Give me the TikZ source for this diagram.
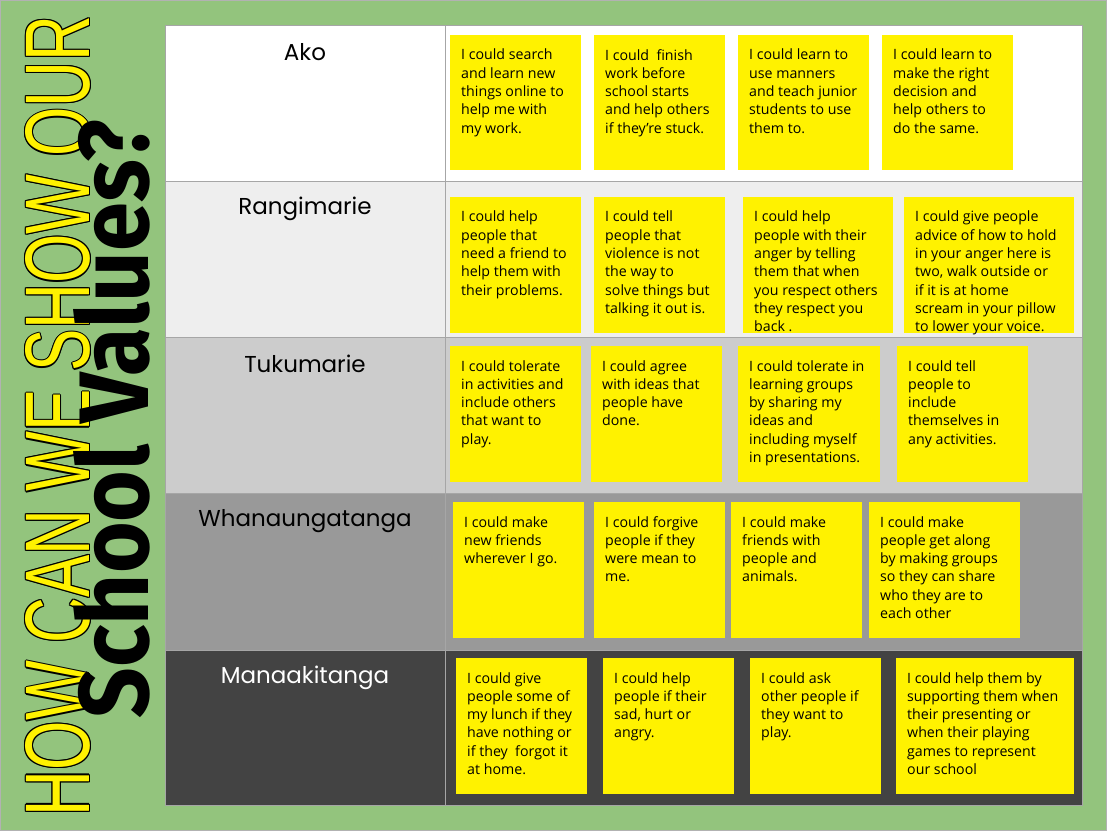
\documentclass[tikz,border=0pt]{standalone}
\usepackage{fontspec}
\setmainfont{Open Sans}
\newfontfamily\lab{Poppins}
\newfontfamily\ttl{Fira Sans}
\newfontfamily\hw{Liberation Sans}
\definecolor{bg}{HTML}{93C47D}
\definecolor{r2}{HTML}{EEEEEE}
\definecolor{r3}{HTML}{CCCCCC}
\definecolor{r4}{HTML}{999999}
\definecolor{r5}{HTML}{434343}
\begin{document}
\begin{tikzpicture}[x=1pt,y=-1pt,
 note/.style={fill=yellow,draw=none},
 ntext/.style={anchor=north west,inner sep=0pt,align=left,font=\fontsize{14.2}{18.3}\selectfont},
 rowlab/.style={font=\lab\fontsize{23}{26}\selectfont}]
\useasboundingbox (0,0) rectangle (1107,831);
\fill[bg] (0,0) rectangle (1107,831);
\draw[gray!60] (0.5,0.5) rectangle (1106.5,830.5);
\fill[white] (165,25) rectangle (1082,181);
\fill[r2] (165,181) rectangle (1082,337);
\fill[r3] (165,337) rectangle (1082,493);
\fill[r4] (165,493) rectangle (1082,650);
\fill[r5] (165,650) rectangle (1082,805);
\draw[gray!70] (165,25) rectangle (1082,805);
\foreach \y in {181,337,493,650} \draw[gray!70] (165,\y) -- (1082,\y);
\draw[gray!70] (445,25) -- (445,805);
\foreach \dx/\dy in {-1.2/0,1.2/0,0/-1.2,0/1.2,-0.9/-0.9,0.9/0.9,-0.9/0.9,0.9/-0.9}
  \node[rotate=90,text=black,inner sep=0pt] at (58+\dx,416+\dy) {\resizebox{800pt}{64pt}{\hw HOW CAN WE SHOW OUR}};
\node[rotate=90,text=yellow,inner sep=0pt] (t1) at (58,416) {\resizebox{800pt}{64pt}{\hw HOW CAN WE SHOW OUR}};
\node[rotate=90,inner sep=0pt] (t2) at (112,419) {\resizebox{598pt}{75pt}{\ttl\bfseries School Values?}};
\node[rowlab] (l1) at (305,52) {Ako};
\node[rowlab] (l2) at (305,209) {Rangimarie};
\node[rowlab] (l3) at (305,364) {Tukumarie};
\node[rowlab] (l4) at (305,521) {Whanaungatanga};
\node[rowlab,text=white] (l5) at (305,678) {Manaakitanga};
\newcommand\nt[6]{\fill[note] (#1,#2) rectangle (#3,#4);
 \node[ntext] (#5) at (#1+11,#2+14) {#6};}
\nt{450}{35}{581}{170}{a1}{I could search\\and learn new\\things online to\\help me with\\my work.}
\nt{594}{35}{725}{170}{a2}{I could\ \ finish\\work before\\school starts\\and help others\\if they're stuck.}
\nt{738}{35}{869}{170}{a3}{I could learn to\\use manners\\and teach junior\\students to use\\them to.}
\nt{882}{35}{1013}{170}{a4}{I could learn to\\make the right\\decision and\\help others to\\do the same.}
\nt{450}{197}{581}{333}{b1}{I could help\\people that\\need a friend to\\help them with\\their problems.}
\nt{594}{197}{725}{333}{b2}{I could tell\\people that\\violence is not\\the way to\\solve things but\\talking it out is.}
\nt{743}{197}{893}{333}{b3}{I could help\\people with their\\anger by telling\\them that when\\you respect others\\they respect you\\back .}
\nt{904}{197}{1074}{333}{b4}{I could give people\\advice of how to hold\\in your anger here is\\two, walk outside or\\if it is at home\\scream in your pillow\\to lower your voice.}
\nt{450}{346}{581}{482}{c1}{I could tolerate\\in activities and\\include others\\that want to\\play.}
\nt{591}{346}{722}{482}{c2}{I could agree\\with ideas that\\people have\\done.}
\nt{738}{346}{880}{482}{c3}{I could tolerate in\\learning groups\\by sharing my\\ideas and\\including myself\\in presentations.}
\nt{897}{346}{1028}{482}{c4}{I could tell\\people to\\include\\themselves in\\any activities.}
\nt{453}{502}{584}{638}{d1}{I could make\\new friends\\wherever I go.}
\nt{594}{502}{725}{638}{d2}{I could forgive\\people if they\\were mean to\\me.}
\nt{731}{502}{862}{638}{d3}{I could make\\friends with\\people and\\animals.}
\nt{869}{502}{1020}{638}{d4}{I could make\\people get along\\by making groups\\so they can share\\who they are to\\each other}
\nt{456}{658}{587}{794}{e1}{I could give\\people some of\\my lunch if they\\have nothing or\\if they\ \ forgot it\\at home.}
\nt{603}{658}{734}{794}{e2}{I could help\\people if their\\sad, hurt or\\angry.}
\nt{750}{658}{881}{794}{e3}{I could ask\\other people if\\they want to\\play.}
\nt{896}{658}{1074}{794}{e4}{I could help them by\\supporting them when\\their presenting or\\when their playing\\games to represent\\our school}
\end{tikzpicture}
\end{document}
